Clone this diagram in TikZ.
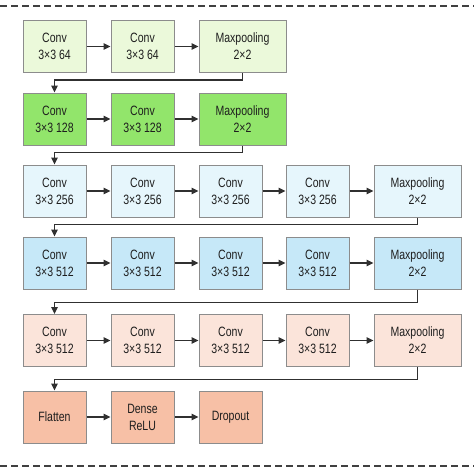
\documentclass[tikz,border=0pt]{standalone}
\usepackage{fontspec}
\setmainfont{Liberation Sans}[FakeStretch=0.78]
\usetikzlibrary{arrows.meta}
\definecolor{gA}{HTML}{EBF9DA}
\definecolor{gB}{HTML}{92E56B}
\definecolor{bA}{HTML}{E6F6FC}
\definecolor{bB}{HTML}{C6E8F8}
\definecolor{pA}{HTML}{FBE4DA}
\definecolor{pB}{HTML}{F7C0A6}
\definecolor{bord}{HTML}{8C8C8C}
\definecolor{ink}{HTML}{1E1E1E}
\definecolor{lin}{HTML}{303030}
\tikzset{
  box/.style={draw=bord, line width=1pt, minimum width=63pt, minimum height=52pt,
    inner sep=0pt, align=center, text=ink, font=\fontsize{13.5}{17}\selectfont},
  wbox/.style={box, minimum width=87pt},
  arr/.style={draw=lin, line width=1.2pt, -{Triangle[length=7pt,width=6.5pt]}},
  dline/.style={draw=black!75, line width=1.2pt, dash pattern=on 7pt off 4pt},
}
\begin{document}
\begin{tikzpicture}[x=1pt,y=-1pt]
\useasboundingbox (0,0) rectangle (474,474);
\draw[dline] (0,6) -- (474,6);
\draw[dline] (0,466) -- (474,466);
% row 1
\node[box,fill=gA] (a1) at (54.5,46.5) {Conv\\3×3 64};
\node[box,fill=gA] (a2) at (142.5,46.5) {Conv\\3×3 64};
\node[wbox,fill=gA] (a3) at (242.5,46.5) {Maxpooling\\2×2};
% row 2
\node[box,fill=gB] (b1) at (54.5,119) {Conv\\3×3 128};
\node[box,fill=gB] (b2) at (142.5,119) {Conv\\3×3 128};
\node[wbox,fill=gB] (b3) at (242.5,119) {Maxpooling\\2×2};
% row 3
\node[box,fill=bA] (c1) at (54.5,191) {Conv\\3×3 256};
\node[box,fill=bA] (c2) at (142.5,191) {Conv\\3×3 256};
\node[box,fill=bA] (c3) at (230.5,191) {Conv\\3×3 256};
\node[box,fill=bA] (c4) at (317.5,191) {Conv\\3×3 256};
\node[wbox,fill=bA] (c5) at (417.5,191) {Maxpooling\\2×2};
% row 4
\node[box,fill=bB] (d1) at (54.5,263) {Conv\\3×3 512};
\node[box,fill=bB] (d2) at (142.5,263) {Conv\\3×3 512};
\node[box,fill=bB] (d3) at (230.5,263) {Conv\\3×3 512};
\node[box,fill=bB] (d4) at (317.5,263) {Conv\\3×3 512};
\node[wbox,fill=bB] (d5) at (417.5,263) {Maxpooling\\2×2};
% row 5
\node[box,fill=pA] (e1) at (54.5,340.5) {Conv\\3×3 512};
\node[box,fill=pA] (e2) at (142.5,340.5) {Conv\\3×3 512};
\node[box,fill=pA] (e3) at (230.5,340.5) {Conv\\3×3 512};
\node[box,fill=pA] (e4) at (317.5,340.5) {Conv\\3×3 512};
\node[wbox,fill=pA] (e5) at (417.5,340.5) {Maxpooling\\2×2};
% row 6
\node[box,fill=pB] (f1) at (54.5,417) {Flatten};
\node[box,fill=pB] (f2) at (142.5,417) {Dense\\ReLU};
\node[box,fill=pB] (f3) at (230.5,417) {Dropout};
% horizontal arrows
\draw[arr] (a1) -- (a2); \draw[arr] (a2) -- (a3);
\draw[arr] (b1) -- (b2); \draw[arr] (b2) -- (b3);
\draw[arr] (c1) -- (c2); \draw[arr] (c2) -- (c3); \draw[arr] (c3) -- (c4); \draw[arr] (c4) -- (c5);
\draw[arr] (d1) -- (d2); \draw[arr] (d2) -- (d3); \draw[arr] (d3) -- (d4); \draw[arr] (d4) -- (d5);
\draw[arr] (e1) -- (e2); \draw[arr] (e2) -- (e3); \draw[arr] (e3) -- (e4); \draw[arr] (e4) -- (e5);
\draw[arr] (f1) -- (f2); \draw[arr] (f2) -- (f3);
% row connectors
\draw[arr] (a3.south) -- ++(0,7) -| (b1.north);
\draw[arr] (b3.south) -- ++(0,7) -| (c1.north);
\draw[arr] (c5.south) -- ++(0,7) -| (d1.north);
\draw[arr] (d5.south) -- ++(0,13) -| (e1.north);
\draw[arr] (e5.south) -- ++(0,12.5) -| (f1.north);
\end{tikzpicture}
\end{document}
